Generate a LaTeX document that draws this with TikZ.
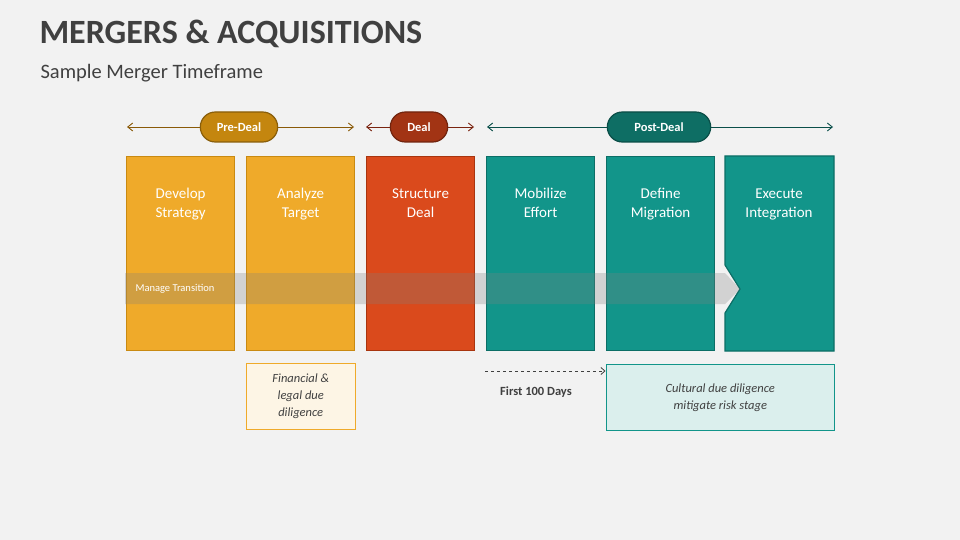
\documentclass[tikz,border=0pt]{standalone}
\usepackage{fontspec}
\setmainfont{Carlito}
\usetikzlibrary{arrows.meta,shapes.misc}
\definecolor{bg}{HTML}{F2F2F2}
\definecolor{yel}{HTML}{EFAA2A}
\definecolor{yelD}{HTML}{C98A12}
\definecolor{pre}{HTML}{C4860F}
\definecolor{preL}{HTML}{8A5A08}
\definecolor{red1}{HTML}{DA4A1C}
\definecolor{redD}{HTML}{A8350F}
\definecolor{deal}{HTML}{A23414}
\definecolor{dealL}{HTML}{7A2410}
\definecolor{teal1}{HTML}{12958A}
\definecolor{tealD}{HTML}{0C6E66}
\definecolor{post}{HTML}{0E6E64}
\definecolor{postL}{HTML}{0B4F4A}
\definecolor{txt}{HTML}{404040}
\begin{document}
\begin{tikzpicture}[x=1pt,y=-1pt,
 col/.style={draw=#1,line width=1.2pt,minimum width=108pt,minimum height=194pt,anchor=north west,inner sep=0pt},
 ctext/.style={text=white,font=\fontsize{15}{19}\selectfont,align=center,anchor=north},
 pill/.style={rounded rectangle,fill=#1,draw=#1!70!black,line width=1.2pt,minimum height=30pt,text=white,font=\bfseries\fontsize{12.5}{14}\selectfont},
 harr/.style={draw=#1,line width=0.9pt,{Straight Barb[length=5pt,width=8pt]}-{Straight Barb[length=5pt,width=8pt]}},
 note/.style={draw=#1,line width=1.5pt,anchor=north west,inner sep=0pt,font=\itshape\fontsize{12.5}{17}\selectfont,text=txt,align=center}]
\fill[bg] (0,0) rectangle (960,540);
\node[anchor=west,font=\bfseries\fontsize{34}{38}\selectfont,text=txt] (title) at (36,34) {MERGERS \& ACQUISITIONS};
\node[anchor=west,font=\fontsize{20.5}{24}\selectfont,text=txt] (sub) at (37,73) {Sample Merger Timeframe};
% columns
\node[col=yelD,fill=yel] (c1) at (126,156) {};
\node[col=yelD,fill=yel] (c2) at (246,156) {};
\node[col=redD,fill=red1] (c3) at (366,156) {};
\node[col=tealD,fill=teal1] (c4) at (486,156) {};
\node[col=tealD,fill=teal1] (c5) at (606,156) {};
\fill[teal1,draw=tealD,line width=1.2pt] (725,156) -- (834,156) -- (834,351) -- (725,351) -- (725,313) -- (740,289) -- (725,265) -- cycle;
\coordinate (c6) at (779,156);
\foreach \n/\t in {c1/Develop\\Strategy,c2/Analyze\\Target,c3/Structure\\Deal,c4/Mobilize\\Effort,c5/Define\\Migration}
  \node[ctext] at ([yshift=-29]\n.north) {\t};
\node[ctext] (t6) at ([yshift=-29]c6) {Execute\\Integration};
% band
\fill[gray,opacity=0.28] (125,273) -- (725,273) -- (740,289) -- (725,304) -- (125,304) -- cycle;
\node[anchor=west,text=white,font=\fontsize{10.5}{12}\selectfont] (mt) at (132,289) {Manage Transition};
% pills and arrows
\coordinate (a1) at (127,127); \coordinate (a2) at (354,127);
\coordinate (b1) at (366,127); \coordinate (b2) at (474,127);
\coordinate (d1) at (487,127); \coordinate (d2) at (833,127);
\draw[harr=preL] (a1) -- (a2);
\draw[harr=dealL] (b1) -- (b2);
\draw[harr=postL] (d1) -- (d2);
\node[pill=pre,minimum width=84pt] (p1) at (239,127) {Pre-Deal};
\node[pill=deal,minimum width=64pt] (p2) at (419,127) {Deal};
\node[pill=post,minimum width=110pt] (p3) at (659,127) {Post-Deal};
% notes
\node[note=yel,fill=yel!12,minimum width=109pt,minimum height=66pt] (n1) at (245.5,362.5) {Financial \&\\legal due\\diligence};
\node[note=teal1,fill=teal1!15,minimum width=228pt,minimum height=66pt] (n2) at (605.5,363.5) {Cultural due diligence\\mitigate risk stage};
\coordinate (f1) at (485,371);
\draw[dashed,txt,line width=0.8pt,-{Straight Barb[length=4pt,width=7pt]}] (f1) -- (n2.north west |- f1) ;
\node[font=\bfseries\fontsize{12.5}{14}\selectfont,text=txt] (fd) at (536,392) {First 100 Days};
\end{tikzpicture}
\end{document}
